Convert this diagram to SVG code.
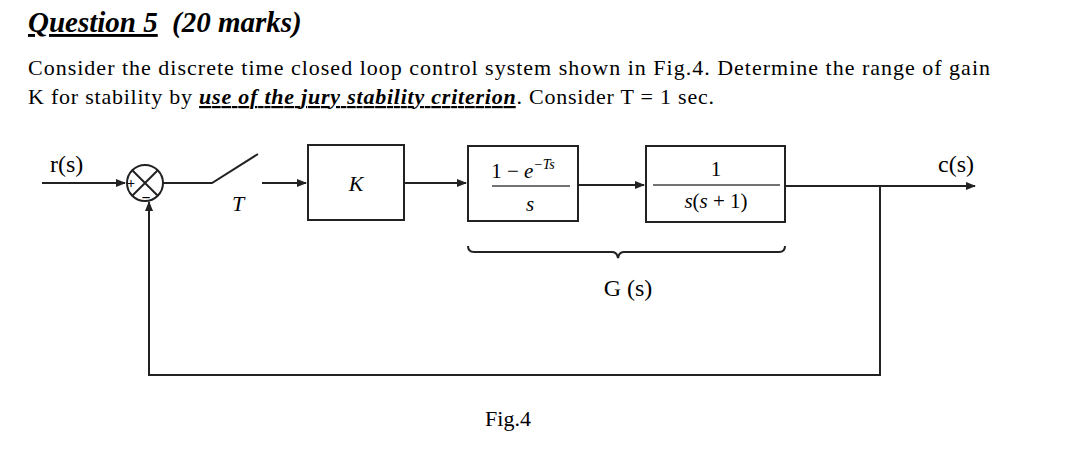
<svg xmlns="http://www.w3.org/2000/svg" width="1070" height="454" viewBox="0 0 1070 454">
<style>
.t{font-family:"Liberation Serif",serif;fill:#000}
.ln{stroke:#222;stroke-width:2;fill:none}
.bx{stroke:#222;stroke-width:2;fill:#fff}
</style>
<defs><marker id="a" markerWidth="10" markerHeight="8" refX="9" refY="4" orient="auto" markerUnits="userSpaceOnUse"><path d="M0,0L10,4L0,8z" fill="#222"/></marker></defs>
<rect width="1070" height="454" fill="#fff"/>
<text class="t" x="28" y="32" font-size="29" font-weight="bold" font-style="italic" text-decoration="underline">Question 5</text>
<text class="t" x="172" y="32" font-size="29" font-weight="bold" font-style="italic">(20 marks)</text>
<text class="t" x="28" y="75" font-size="22" textLength="962" lengthAdjust="spacing">Consider the discrete time closed loop control system shown in Fig.4. Determine the range of gain</text>
<text class="t" x="28" y="104" font-size="22" textLength="686" lengthAdjust="spacing">K for stability by <tspan font-weight="bold" font-style="italic" text-decoration="underline">use of the jury stability criterion</tspan>. Consider T = 1 sec.</text>
<g id="connectors">
<path class="ln" d="M42,183H125" marker-end="url(#a)"/>
<path class="ln" d="M163,183H212L258,154"/>
<path class="ln" d="M262,183H306" marker-end="url(#a)"/>
<path class="ln" d="M404,183H466" marker-end="url(#a)"/>
<path class="ln" d="M578,185H644" marker-end="url(#a)"/>
<path class="ln" d="M785,186H975" marker-end="url(#a)"/>
<path class="ln" d="M880,186V375H149V202" marker-end="url(#a)"/>
<path class="ln" d="M468,246Q468,252 474,252H612Q617,252 618,258Q619,252 624,252H779Q785,252 785,246"/>
</g>
<g id="sum"><circle class="bx" cx="145" cy="183" r="18"/><path class="ln" d="M132,170L158,196M158,170L132,196"/>
<text class="t" x="131" y="188" font-size="14" font-weight="bold" text-anchor="middle">+</text><text class="t" x="146" y="203" font-size="16" font-weight="bold" text-anchor="middle">−</text></g>
<text class="t" x="50" y="172" font-size="24">r(s)</text>
<text class="t" x="232" y="211" font-size="22" font-style="italic">T</text>
<g id="K"><rect class="bx" x="308" y="145" width="96" height="75"/><text class="t" x="356" y="191" font-size="22" font-style="italic" text-anchor="middle">K</text></g>
<g id="zoh"><rect class="bx" x="468" y="146" width="110" height="75"/><text class="t" x="523" y="178" font-size="21" text-anchor="middle">1 − <tspan font-style="italic">e</tspan><tspan font-size="14" dy="-9" font-style="italic">−Ts</tspan></text><path d="M492,186H570" stroke="#444" stroke-width="1.5"/><text class="t" x="530" y="211" font-size="21" font-style="italic" text-anchor="middle">s</text></g>
<g id="plant"><rect class="bx" x="646" y="146" width="139" height="76"/><text class="t" x="716" y="176" font-size="21" text-anchor="middle">1</text><path d="M653,185H780" stroke="#444" stroke-width="1.5"/><text class="t" x="716" y="208" font-size="21" text-anchor="middle"><tspan font-style="italic">s</tspan>(<tspan font-style="italic">s</tspan> + 1)</text></g>
<text class="t" x="938" y="172" font-size="24">c(s)</text>
<text class="t" x="628" y="296" font-size="24" text-anchor="middle">G (s)</text>
<text class="t" x="508" y="426" font-size="22" text-anchor="middle">Fig.4</text>
</svg>
